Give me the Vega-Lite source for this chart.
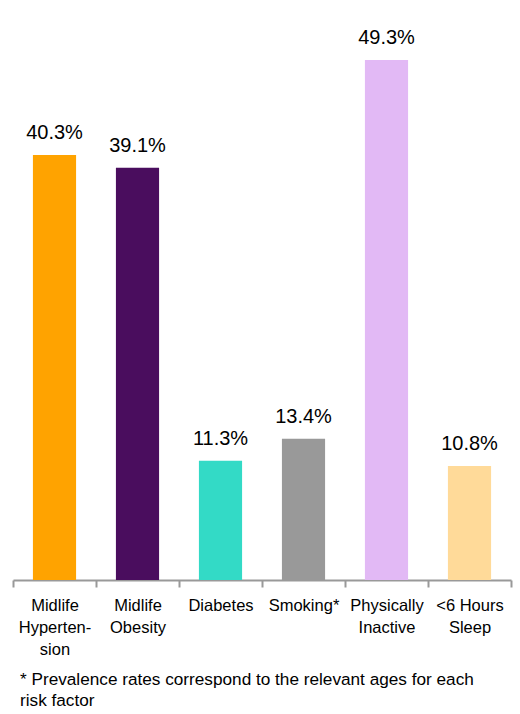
{
  "$schema": "https://vega.github.io/schema/vega-lite/v6.json",
  "width": 498,
  "height": 580,
  "autosize": {"type": "none"},
  "padding": {"left": 13, "top": 0, "right": 9, "bottom": 134},
  "background": "white",
  "config": {"view": {"stroke": null}, "font": "Liberation Sans"},
  "title": {
    "text": ["* Prevalence rates correspond to the relevant ages for each", "risk factor"],
    "orient": "bottom",
    "anchor": "start",
    "frame": "group",
    "dx": 7,
    "offset": 13,
    "fontSize": 17.2,
    "fontWeight": "normal",
    "lineHeight": 21,
    "color": "#000000"
  },
  "data": {
    "values": [
      {"factor": "Midlife|Hyperten-|sion", "pct": 0.403, "colour": "#FFA300"},
      {"factor": "Midlife|Obesity", "pct": 0.391, "colour": "#4A0D5E"},
      {"factor": "Diabetes", "pct": 0.113, "colour": "#33DAC6"},
      {"factor": "Smoking*", "pct": 0.134, "colour": "#999999"},
      {"factor": "Physically|Inactive", "pct": 0.493, "colour": "#E2B9F5"},
      {"factor": "<6 Hours|Sleep", "pct": 0.108, "colour": "#FFDA99"}
    ]
  },
  "encoding": {
    "x": {
      "field": "factor",
      "type": "nominal",
      "sort": null,
      "scale": {"paddingInner": 0, "paddingOuter": 0},
      "axis": {
        "title": null,
        "labelAngle": 0,
        "labelExpr": "datum.value ? split(datum.value, '|') : ''",
        "labelFontSize": 16.5,
        "labelColor": "#000000",
        "labelLineHeight": 22,
        "labelPadding": 10,
        "labelBaseline": "top",
        "tickBand": "extent",
        "tickColor": "#999999",
        "tickWidth": 2,
        "tickSize": 7,
        "domainColor": "#999999",
        "domainWidth": 2
      }
    },
    "y": {
      "field": "pct",
      "type": "quantitative",
      "scale": {"domain": [0, 0.55]},
      "axis": null
    }
  },
  "layer": [
    {
      "mark": {"type": "bar", "width": {"band": 0.52}},
      "encoding": {"color": {"field": "colour", "type": "nominal", "scale": null}}
    },
    {
      "mark": {"type": "text", "baseline": "bottom", "dy": -12, "fontSize": 20, "color": "#000000"},
      "encoding": {"text": {"field": "pct", "type": "quantitative", "format": ".1%"}}
    }
  ]
}
